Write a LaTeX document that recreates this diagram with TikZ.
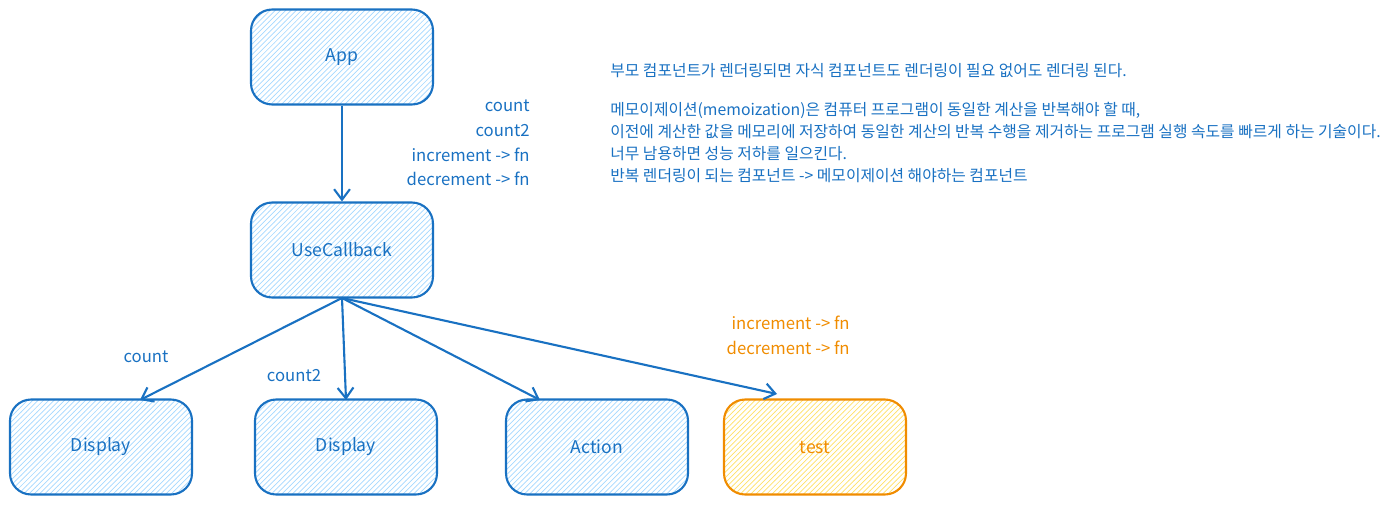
\documentclass[tikz,border=0pt]{standalone}
\usepackage{fontspec}
\setmainfont{Noto Sans CJK KR}
\usetikzlibrary{arrows.meta}
\usetikzlibrary{patterns}
\definecolor{pblue}{HTML}{1971C2}
\definecolor{hblue}{HTML}{A5D8FF}
\definecolor{porange}{HTML}{F08C00}
\definecolor{horange}{HTML}{FFE066}
\tikzstyle{comp} = [draw=pblue, line width=1.2pt, rounded corners=12pt, minimum width=3.64cm, minimum height=1.9cm, pattern=north east lines, pattern color=hblue, text=pblue, font=\fontsize{10pt}{12pt}\selectfont]
\tikzstyle{testcomp} = [comp, draw=porange, pattern color=horange, text=porange]
\tikzstyle{arrow} = [draw=pblue, line width=1.2pt, -{Straight Barb[length=6pt,width=9pt]}]
\tikzstyle{lbl} = [text=pblue, font=\fontsize{9.5pt}{14pt}\selectfont, inner sep=0pt]
\tikzstyle{note} = [text=pblue, font=\fontsize{9pt}{12.5pt}\selectfont, inner sep=0pt, align=left]

\begin{document}
\begin{tikzpicture}[x=0.02cm, y=-0.02cm]
	\useasboundingbox (0,0) rectangle (1398,507);
	\node[comp](app) at (342,57){App};
	\node[comp](use) at (342,250){UseCallback};
	\node[comp](disp1) at (101,447){Display};
	\node[comp](disp2) at (346,447){Display};
	\node[comp](act) at (597,447){Action};
	\node[testcomp](test) at (815,447){test};
	\coordinate(usebot) at (342,298);
	\draw[arrow](app.south) -- (use.north);
	\draw[arrow](usebot) -- (140,400);
	\draw[arrow](usebot) -- (346,400);
	\draw[arrow](usebot) -- (540,400);
	\draw[arrow](usebot) -- (777,394);
	\node[lbl, anchor=north east, align=right](props) at (530,100){count\\count2\\increment -> fn\\decrement -> fn};
	\node[lbl, anchor=center](c1) at (146,357){count};
	\node[lbl, anchor=center](c2) at (294,376){count2};
	\node[lbl, anchor=north east, align=right, text=porange](fns) at (850,316){increment -> fn\\decrement -> fn};
	\node[note, anchor=north west](desc) at (610,63){부모 컴포넌트가 렌더링되면 자식 컴포넌트도 렌더링이 필요 없어도 렌더링 된다.\\[10pt]
메모이제이션(memoization)은 컴퓨터 프로그램이 동일한 계산을 반복해야 할 때,\\
이전에 계산한 값을 메모리에 저장하여 동일한 계산의 반복 수행을 제거하는 프로그램 실행 속도를 빠르게 하는 기술이다.\\
너무 남용하면 성능 저하를 일으킨다.\\
반복 렌더링이 되는 컴포넌트 -> 메모이제이션 해야하는 컴포넌트};
\end{tikzpicture}
\end{document}
